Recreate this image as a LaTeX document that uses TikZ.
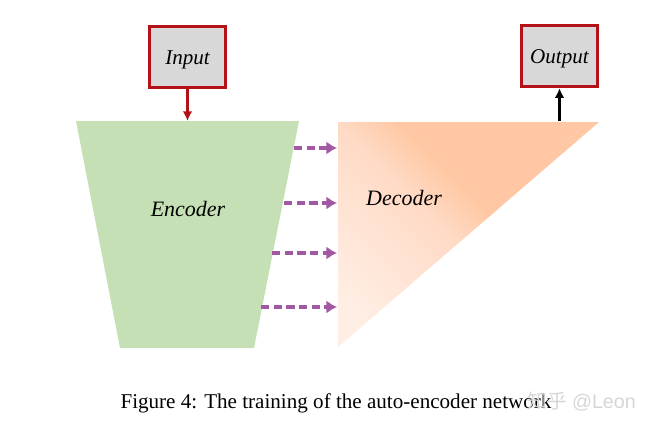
\documentclass[tikz,border=0pt]{standalone}
\usepackage{fontspec}
\setmainfont{Liberation Serif}
\newfontfamily\cjk{Noto Sans CJK SC}
\newfontfamily\marksans{Liberation Sans}
\usetikzlibrary{arrows.meta}
\definecolor{boxred}{RGB}{178,18,24}
\definecolor{boxgray}{RGB}{216,216,216}
\definecolor{encgreen}{RGB}{197,224,180}
\definecolor{decorange}{RGB}{255,199,163}
\definecolor{decmid}{RGB}{255,218,197}
\definecolor{decpale}{RGB}{255,227,211}
\definecolor{declight}{RGB}{255,238,228}
\definecolor{skippurple}{RGB}{163,88,163}
\pgfdeclareverticalshading{decshade}{100bp}{color(0bp)=(declight); color(40bp)=(declight); color(49.4bp)=(decpale); color(55.6bp)=(decmid); color(61.25bp)=(decorange); color(100bp)=(decorange)}
\tikzset{
  iobox/.style={draw=boxred, line width=1.7pt, fill=boxgray, inner sep=0pt, minimum width=43.5pt, text height=11.5pt, text depth=2.6pt, font=\itshape\fontsize{12}{14}\selectfont},
  feed/.style={line width=1.7pt, -{Latex[length=5.5pt,width=5.5pt]}},
  skip/.style={skippurple, line width=2.1pt, dash pattern=on 4.7pt off 2.5pt, -{Latex[length=6pt,width=7.5pt]}},
  blocktext/.style={font=\itshape\fontsize{12.5}{15}\selectfont},
}
\begin{document}
\begin{tikzpicture}[x=0.02cm,y=-0.02cm]
\useasboundingbox (0,0) rectangle (652,430);
% encoder and decoder
\fill[encgreen] (76,121) -- (299,121) -- (254,348) -- (120,348) -- cycle;
\begin{scope}
\clip (338,122) -- (599,122) -- (338,347) -- cycle;
\shade[shading=decshade, shading angle=-45] (218,67) rectangle (618,467);
\end{scope}
\node[blocktext] (encoder) at (188,209) {Encoder};
\node[blocktext] (decoder) at (404,198) {Decoder};
% input and output
\node[iobox, minimum height=34.5pt] (input) at (187.5,57) {Input};
\node[iobox, minimum height=35pt] (output) at (559.5,56) {Output};
\coordinate (enctop) at (187.5,121);
\coordinate (dectop) at (559.5,121);
\draw[feed, boxred] (input) -- (enctop);
\draw[feed, black] (dectop) -- (output);
% links between the two
\coordinate (encA) at (294,148);
\coordinate (encB) at (284,203);
\coordinate (encC) at (272,253);
\coordinate (encD) at (261,307);
\coordinate (decA) at (337,148);
\coordinate (decB) at (337,203);
\coordinate (decC) at (337,253);
\coordinate (decD) at (337,307);
\draw[skip] (encA) -- (decA);
\draw[skip] (encB) -- (decB);
\draw[skip] (encC) -- (decC);
\draw[skip] (encD) -- (decD);
% caption
\node[font=\fontsize{12}{14}\selectfont] (caption) at (336,403) {Figure 4: The training of the auto-encoder network};
\node[text=gray!32, font=\fontsize{11.2}{13}\selectfont, anchor=east] (mark) at (642,402) {{\cjk 知乎} {\marksans @Leon}};
\end{tikzpicture}
\end{document}
